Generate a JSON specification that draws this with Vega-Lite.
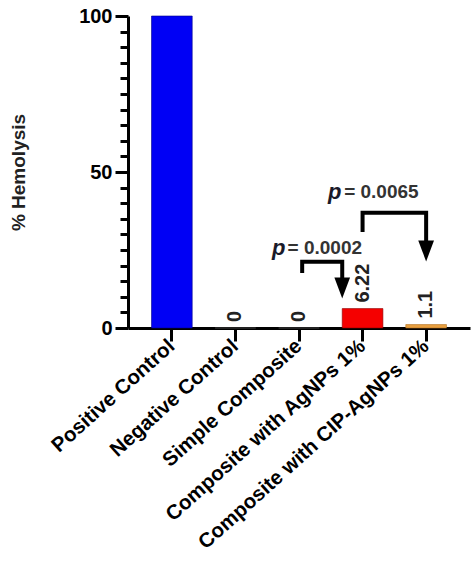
{
  "$schema": "https://vega.github.io/schema/vega-lite/v6.json",
  "width": 342,
  "height": 312,
  "autosize": "none",
  "padding": {"left": 128, "top": 16, "right": 4, "bottom": 237},
  "background": "white",
  "config": {"view": {"stroke": null}, "font": "Liberation Sans"},
  "datasets": {
    "hemolysis": [
      {"group": "Positive Control", "pct": 100, "label": "100"},
      {"group": "Negative Control", "pct": 0, "label": "0"},
      {"group": "Simple Composite", "pct": 0, "label": "0"},
      {"group": "Composite with AgNPs 1%", "pct": 6.22, "label": "6.22"},
      {"group": "Composite with CIP-AgNPs 1%", "pct": 1.1, "label": "1.1"}
    ],
    "brackets": [
      {"pair": "b1", "step": 1, "pos": 2.05, "pct": 17.6},
      {"pair": "b1", "step": 2, "pos": 2.05, "pct": 21.2},
      {"pair": "b1", "step": 3, "pos": 2.68, "pct": 21.2},
      {"pair": "b1", "step": 4, "pos": 2.68, "pct": 15.2},
      {"pair": "b2", "step": 1, "pos": 3.0, "pct": 30.8},
      {"pair": "b2", "step": 2, "pos": 3.0, "pct": 36.9},
      {"pair": "b2", "step": 3, "pos": 4.0, "pct": 36.9},
      {"pair": "b2", "step": 4, "pos": 4.0, "pct": 27.3}
    ],
    "arrows": [
      {"pair": "b1", "pos": 2.68, "pct": 12.8},
      {"pair": "b2", "pos": 4.0, "pct": 24.7}
    ],
    "pvalues": [
      {"pair": "b1", "ppos": 1.68, "vpos": 1.82, "pct": 25.6, "p": "p", "value": "= 0.0002"},
      {"pair": "b2", "ppos": 2.56, "vpos": 2.71, "pct": 43.6, "p": "p", "value": "= 0.0065"}
    ]
  },
  "encoding": {
    "y": {
      "field": "pct",
      "type": "quantitative",
      "scale": {"domain": [0, 100], "nice": false},
      "axis": {
        "title": "% Hemolysis",
        "values": [0, 5, 10, 15, 20, 25, 30, 35, 40, 45, 50, 55, 60, 65, 70, 75, 80, 85, 90, 95, 100],
        "labelExpr": "datum.value % 50 === 0 ? datum.label : ''",
        "labelOverlap": false,
        "labelFlush": false,
        "labelFontSize": 20,
        "labelFontWeight": "bold",
        "labelColor": "black",
        "labelPadding": 3,
        "tickSize": {"condition": {"test": "datum.value % 50 === 0", "value": 13}, "value": 8},
        "tickWidth": 3,
        "tickColor": "black",
        "domainWidth": 3,
        "domainColor": "black",
        "grid": false,
        "titleFontSize": 19,
        "titleFontWeight": "bold",
        "titleColor": "#222",
        "titlePadding": 50
      }
    }
  },
  "layer": [
    {
      "data": {"name": "hemolysis"},
      "encoding": {
        "x": {
          "field": "group",
          "type": "nominal",
          "sort": null,
          "scale": {"paddingInner": 0.36, "paddingOuter": 0.37},
          "axis": {
            "title": null,
            "labelAngle": -42,
            "labelAlign": "right",
            "labelBaseline": "middle",
            "labelFontSize": 20.5,
            "labelFontWeight": "bold",
            "labelColor": "black",
            "labelPadding": 2,
            "labelLimit": 0,
            "tickSize": 13,
            "tickWidth": 3,
            "tickColor": "black",
            "domainWidth": 3,
            "domainColor": "black"
          }
        }
      },
      "layer": [
        {
          "mark": {"type": "bar", "strokeWidth": 1, "strokeOpacity": 0.6},
          "encoding": {
            "color": {
              "field": "group",
              "type": "nominal",
              "scale": {
                "domain": ["Positive Control", "Negative Control", "Simple Composite", "Composite with AgNPs 1%", "Composite with CIP-AgNPs 1%"],
                "range": ["#0000F5", "#888888", "#888888", "#F50000", "#E8A040"]
              },
              "legend": null
            },
            "stroke": {
              "field": "group",
              "type": "nominal",
              "scale": {
                "domain": ["Positive Control", "Negative Control", "Simple Composite", "Composite with AgNPs 1%", "Composite with CIP-AgNPs 1%"],
                "range": ["#00008B", "#444444", "#444444", "#8B0000", "#B07020"]
              },
              "legend": null
            }
          }
        },
        {
          "transform": [{"filter": "datum.group !== 'Positive Control'"}],
          "mark": {"type": "text", "angle": 270, "align": "left", "baseline": "middle", "dx": 6, "fontSize": 20, "fontWeight": "bold", "color": "#222"},
          "encoding": {"text": {"field": "label", "type": "nominal"}}
        }
      ]
    },
    {
      "encoding": {
        "x": {
          "field": "pos",
          "type": "quantitative",
          "scale": {"domain": [-0.69, 4.69], "nice": false, "zero": false},
          "axis": null
        }
      },
      "layer": [
        {
          "data": {"name": "brackets"},
          "mark": {"type": "line", "color": "black", "strokeWidth": 4, "strokeJoin": "miter", "strokeCap": "butt"},
          "encoding": {
            "detail": {"field": "pair", "type": "nominal"},
            "order": {"field": "step", "type": "quantitative"}
          }
        },
        {
          "data": {"name": "arrows"},
          "mark": {"type": "point", "shape": "M-0.75,-1L0.75,-1L0,1Z", "size": 440, "filled": true, "color": "black", "opacity": 1, "strokeWidth": 0}
        },
        {
          "data": {"name": "pvalues"},
          "mark": {"type": "text", "align": "center", "baseline": "middle", "fontSize": 22, "fontWeight": "bold", "fontStyle": "italic", "color": "#1a1a2a"},
          "encoding": {
            "x": {"field": "ppos", "type": "quantitative"},
            "text": {"field": "p", "type": "nominal"}
          }
        },
        {
          "data": {"name": "pvalues"},
          "mark": {"type": "text", "align": "left", "baseline": "middle", "fontSize": 19, "fontWeight": "bold", "color": "#333"},
          "encoding": {
            "x": {"field": "vpos", "type": "quantitative"},
            "text": {"field": "value", "type": "nominal"}
          }
        }
      ]
    }
  ],
  "resolve": {"scale": {"x": "independent"}}
}
